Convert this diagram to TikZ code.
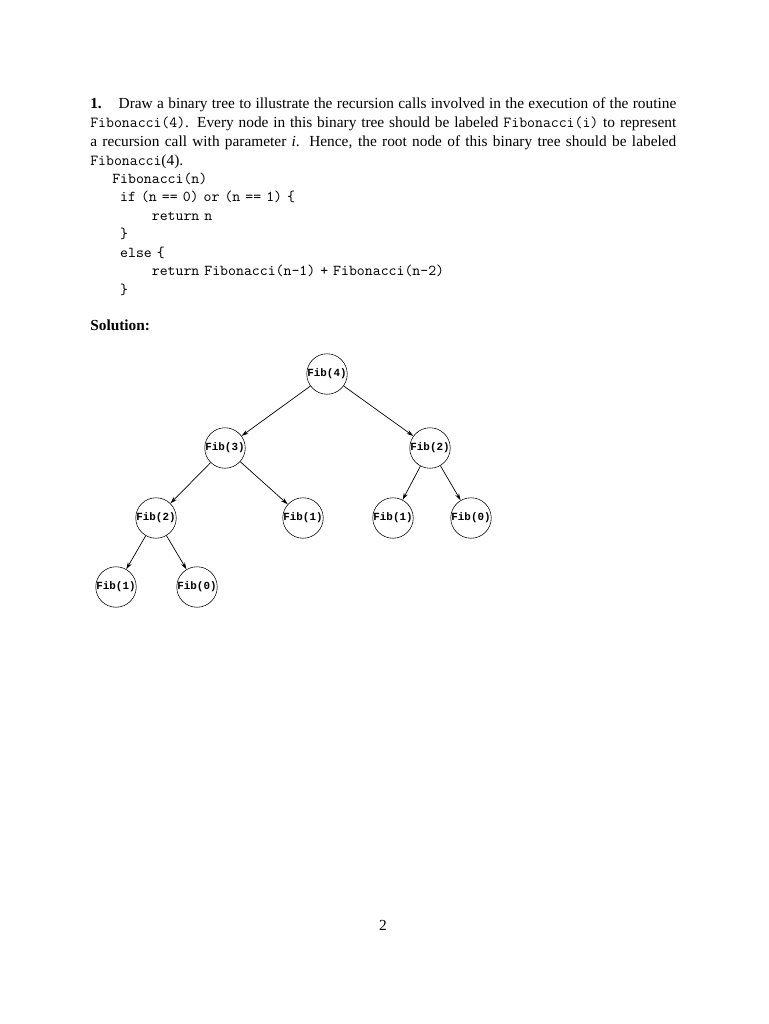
\documentclass[tikz,border=0pt]{standalone}
\usepackage{fontspec}
\setmainfont{Liberation Serif}
\newfontfamily\treefont{Liberation Mono}
\usepackage{tikz}
\usetikzlibrary{arrows.meta,positioning}

\begin{document}
\begin{tikzpicture}[x=0.716pt, y=-0.716pt,
  fibnode/.style={circle, draw, thin, minimum size=28.6pt, inner sep=0pt,
    font=\treefont\bfseries\fontsize{7.8}{8}\selectfont},
  fibcall/.style={-{Stealth[length=5pt,width=3pt]}, line width=0.5pt}]
\useasboundingbox (0,0) rectangle (768,1024);

% Question text
\node[anchor=base west, inner sep=0pt, text width=419.6pt, align=justify,
  font=\fontsize{11}{13.8}\selectfont] (question) at (90,108) {%
  \textbf{1.}\hspace{1.1em}Draw a binary tree to illustrate the recursion calls involved in the execution of the routine\linebreak
  \texttt{Fibonacci(4)}. Every node in this binary tree should be labeled \texttt{Fibonacci(i)} to represent\linebreak
  a recursion call with parameter \textit{i}. Hence, the root node of this binary tree should be labeled\linebreak
  \texttt{Fibonacci}(4).};

% Code
\node[anchor=base west, inner sep=0pt, text width=400pt, align=left,
  font=\ttfamily\fontsize{10.8}{13.25}\selectfont] (code) at (112,183) {%
  Fibonacci(n)\\
  \hphantom{x}if (n == 0) or (n == 1) \{\\
  \hphantom{xxxxx}return n\\
  \hphantom{x}\}\\
  \hphantom{x}else \{\\
  \hphantom{xxxxx}return Fibonacci(n-1) + Fibonacci(n-2)\\
  \hphantom{x}\}};

\node[anchor=base west, inner sep=0pt, font=\fontsize{11}{13.8}\selectfont\bfseries] (solution) at (90,330) {Solution:};

% Recursion tree
\node[fibnode] (f4) at (327,374) {Fib(4)};
\node[fibnode] (f3) at (225,448) {Fib(3)};
\node[fibnode] (f2r) at (430,448) {Fib(2)};
\node[fibnode] (f2l) at (156,518) {Fib(2)};
\node[fibnode] (f1m) at (303,518) {Fib(1)};
\node[fibnode] (f1r) at (393,518) {Fib(1)};
\node[fibnode] (f0r) at (471,518) {Fib(0)};
\node[fibnode] (f1l) at (116,587) {Fib(1)};
\node[fibnode] (f0l) at (197,587) {Fib(0)};

\draw[fibcall] (f4) -- (f3);
\draw[fibcall] (f4) -- (f2r);
\draw[fibcall] (f3) -- (f2l);
\draw[fibcall] (f3) -- (f1m);
\draw[fibcall] (f2r) -- (f1r);
\draw[fibcall] (f2r) -- (f0r);
\draw[fibcall] (f2l) -- (f1l);
\draw[fibcall] (f2l) -- (f0l);

% Page number
\node[anchor=base, inner sep=0pt, font=\fontsize{11}{12}\selectfont] (page) at (383,930) {2};
\end{tikzpicture}
\end{document}
